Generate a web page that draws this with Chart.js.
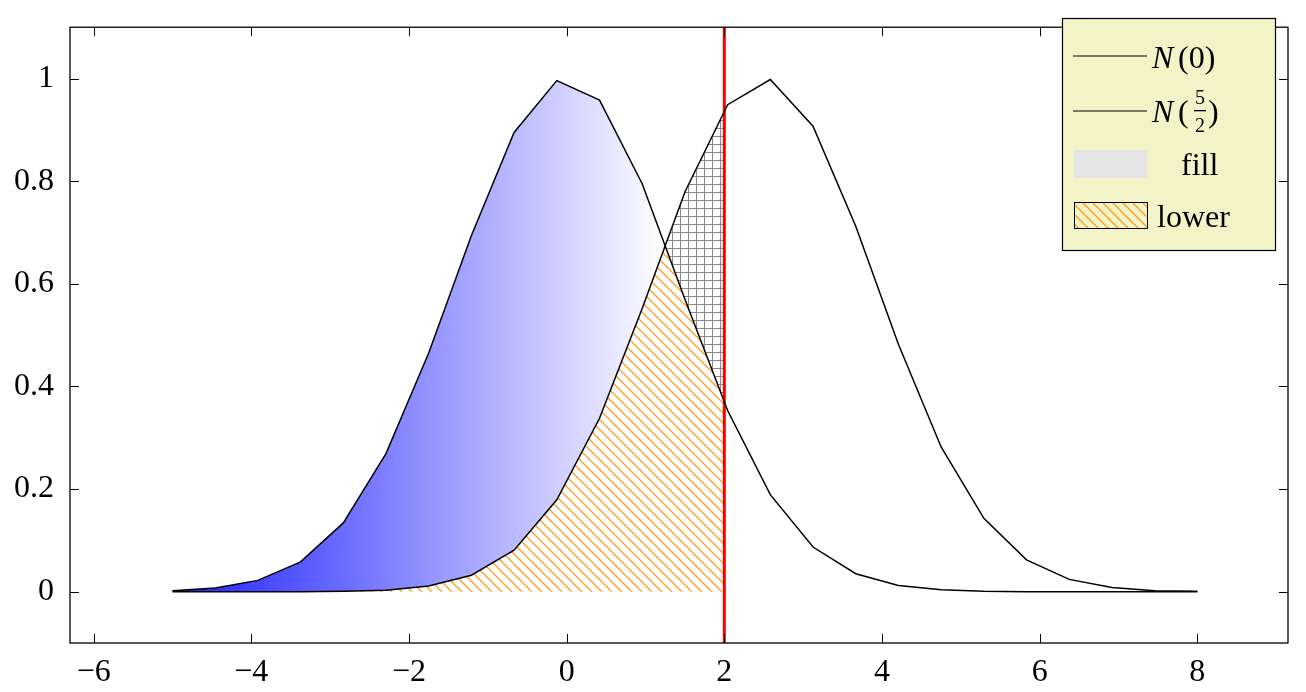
<!DOCTYPE html>
<html>
<head>
<meta charset="utf-8">
<script src="https://cdn.jsdelivr.net/npm/chart.js@4"></script>
<style>
  html, body { margin: 0; padding: 0; background: #fff; }
  #wrap { width: 1306px; height: 692px; }
</style>
</head>
<body>
<div id="wrap"><canvas id="chart"></canvas></div>
<script>
// sample positions (25 samples from -5 to 8)
const xs = [-5.000, -4.458, -3.917, -3.375, -2.833, -2.292, -1.750, -1.208, -0.667, -0.125, 0.417, 0.958, 1.500,
            2.042, 2.583, 3.125, 3.667, 4.208, 4.750, 5.292, 5.833, 6.375, 6.917, 7.458, 8.000];
const n0 = [0.002, 0.007, 0.022, 0.058, 0.134, 0.269, 0.465, 0.694, 0.895, 0.996, 0.958, 0.795, 0.570,
            0.353, 0.189, 0.087, 0.035, 0.012, 0.004, 0.001, 0, 0, 0, 0, 0];
const n25 = [0, 0, 0, 0, 0.001, 0.003, 0.011, 0.032, 0.081, 0.179, 0.338, 0.552, 0.779,
             0.949, 0.998, 0.907, 0.712, 0.482, 0.282, 0.143, 0.062, 0.024, 0.008, 0.002, 0.001];
// clipped region x <= 2, with crossing point
const xsFill = [-5.000, -4.458, -3.917, -3.375, -2.833, -2.292, -1.750, -1.208, -0.667, -0.125, 0.417, 0.958, 1.25, 1.500, 2.0];
const topFill = [0.002, 0.007, 0.022, 0.058, 0.134, 0.269, 0.465, 0.694, 0.895, 0.996, 0.958, 0.795, 0.674, 0.570, 0.370];
const botFill = [0, 0, 0, 0, 0.001, 0.003, 0.011, 0.032, 0.081, 0.179, 0.338, 0.552, 0.674, 0.779, 0.936];
const crossX = 1.25;
const cutX = 2;
const xTicks = [-6, -4, -2, 0, 2, 4, 6, 8];
const yTicks = [0, 0.2, 0.4, 0.6, 0.8, 1];

const pts = (a, b) => a.map((x, i) => ({ x: x, y: b[i] }));
const FONT = '"Liberation Serif", "DejaVu Serif", serif';

function makePattern(kind) {
  const c = document.createElement('canvas');
  const s = kind === 'hatch' ? 10 : 8;
  c.width = s; c.height = s;
  const g = c.getContext('2d');
  if (kind === 'hatch') {
    g.strokeStyle = '#ff9a1a'; g.lineWidth = 1.3;
    g.beginPath();
    g.moveTo(0, 0); g.lineTo(s, s);
    g.moveTo(-s, 0); g.lineTo(s, 2 * s);
    g.moveTo(0, -s); g.lineTo(2 * s, s);
    g.stroke();
  } else {
    g.strokeStyle = '#888'; g.lineWidth = 1;
    g.beginPath();
    g.moveTo(0.5, 0); g.lineTo(0.5, s);
    g.moveTo(0, 0.5); g.lineTo(s, 0.5);
    g.stroke();
  }
  return g.createPattern(c, 'repeat');
}

function poly(ctx, xsc, ysc, upper, lower) {
  ctx.beginPath();
  upper.forEach((p, i) => {
    const px = xsc.getPixelForValue(p.x), py = ysc.getPixelForValue(p.y);
    i ? ctx.lineTo(px, py) : ctx.moveTo(px, py);
  });
  for (let i = lower.length - 1; i >= 0; i--) {
    ctx.lineTo(xsc.getPixelForValue(lower[i].x), ysc.getPixelForValue(lower[i].y));
  }
  ctx.closePath();
}

const fillPlugin = {
  id: 'fills',
  beforeDatasetsDraw(chart) {
    const ctx = chart.ctx, xsc = chart.scales.x, ysc = chart.scales.y;
    const top = pts(xsFill, topFill), bot = pts(xsFill, botFill);
    const k = xsFill.indexOf(crossX);
    ctx.save();
    // gradient between curves left of crossing
    const grad = ctx.createLinearGradient(xsc.getPixelForValue(-5), 0, xsc.getPixelForValue(crossX), 0);
    grad.addColorStop(0, 'rgb(30,30,255)');
    grad.addColorStop(1, 'rgb(255,255,255)');
    ctx.fillStyle = grad;
    poly(ctx, xsc, ysc, top.slice(0, k + 1), bot.slice(0, k + 1));
    ctx.fill();
    // grid between crossing and cut
    ctx.fillStyle = makePattern('grid');
    poly(ctx, xsc, ysc, bot.slice(k), top.slice(k));
    ctx.fill();
    // hatch under lower curve
    const low = xsFill.map((x, i) => ({ x: x, y: Math.min(topFill[i], botFill[i]) }));
    const base = [{ x: xsFill[0], y: 0 }, { x: cutX, y: 0 }];
    ctx.fillStyle = makePattern('hatch');
    poly(ctx, xsc, ysc, low, base);
    ctx.fill();
    ctx.restore();
  },
  afterDraw(chart) {
    const ctx = chart.ctx, a = chart.chartArea, xsc = chart.scales.x, ysc = chart.scales.y;
    ctx.save();
    ctx.strokeStyle = '#000'; ctx.lineWidth = 1.3;
    ctx.strokeRect(a.left, a.top, a.right - a.left, a.bottom - a.top);
    ctx.lineWidth = 1;
    ctx.beginPath();
    xTicks.forEach(v => {
      const p = Math.round(xsc.getPixelForValue(v)) + 0.5;
      ctx.moveTo(p, a.bottom); ctx.lineTo(p, a.bottom - 9);
      ctx.moveTo(p, a.top); ctx.lineTo(p, a.top + 9);
    });
    yTicks.forEach(v => {
      const p = Math.round(ysc.getPixelForValue(v)) + 0.5;
      ctx.moveTo(a.left, p); ctx.lineTo(a.left + 9, p);
      ctx.moveTo(a.right, p); ctx.lineTo(a.right - 9, p);
    });
    ctx.stroke();

    // legend
    const L = 1062, T = 18, W = 213, H = 232;
    ctx.fillStyle = '#f3f3c8';
    ctx.fillRect(L, T, W, H);
    ctx.strokeStyle = '#000'; ctx.lineWidth = 1.2;
    ctx.strokeRect(L + 0.5, T + 0.5, W, H);
    ctx.lineWidth = 1.2;
    ctx.beginPath();
    ctx.moveTo(1073, 56); ctx.lineTo(1147, 56);
    ctx.moveTo(1073, 111); ctx.lineTo(1147, 111);
    ctx.stroke();
    ctx.fillStyle = '#e5e5e5';
    ctx.fillRect(1074, 150, 73, 28);
    ctx.fillStyle = makePattern('hatch');
    ctx.fillRect(1074, 202, 73, 26);
    ctx.strokeStyle = '#000'; ctx.lineWidth = 1;
    ctx.strokeRect(1074.5, 202.5, 73, 26);

    ctx.fillStyle = '#000';
    ctx.textBaseline = 'alphabetic';
    ctx.font = 'italic 32px ' + FONT;
    ctx.fillText('N', 1152, 68);
    ctx.fillText('N', 1152, 122);
    ctx.font = '32px ' + FONT;
    ctx.fillText('(0)', 1178, 68);
    ctx.fillText('(', 1178, 122);
    ctx.font = '20px ' + FONT;
    ctx.fillText('5', 1195, 104);
    ctx.fillText('2', 1195, 132);
    ctx.fillRect(1194, 110, 12, 1.3);
    ctx.font = '32px ' + FONT;
    ctx.fillText(')', 1208, 122);
    ctx.fillText('fill', 1181, 175);
    ctx.fillText('lower', 1157, 227);
    ctx.restore();
  }
};

new Chart(document.getElementById('chart'), {
  type: 'line',
  data: {
    datasets: [
      { label: 'N(0)', data: pts(xs, n0), borderColor: '#000', borderWidth: 1.5 },
      { label: 'N(5/2)', data: pts(xs, n25), borderColor: '#000', borderWidth: 1.5 },
      { label: 'cut', data: [{ x: cutX, y: -0.1 }, { x: cutX, y: 1.1 }], borderColor: '#ff0000', borderWidth: 3 }
    ]
  },
  options: {
    responsive: true,
    maintainAspectRatio: false,
    animation: false,
    layout: { padding: { top: 5, right: 18 } },
    elements: { point: { radius: 0 }, line: { tension: 0, fill: false } },
    plugins: { legend: { display: false }, tooltip: { enabled: false } },
    scales: {
      x: {
        type: 'linear', min: -6.3, max: 9.15,
        afterBuildTicks: s => { s.ticks = xTicks.map(v => ({ value: v })); },
        afterFit: s => { s.height = 49; },
        grid: { display: false },
        border: { display: false },
        ticks: {
          color: '#000', font: { family: FONT, size: 32 }, padding: 2,
          callback: v => (v < 0 ? '\u2212' + Math.abs(v) : String(v))
        }
      },
      y: {
        min: -0.1, max: 1.1,
        afterBuildTicks: s => { s.ticks = yTicks.map(v => ({ value: v })); },
        afterFit: s => { s.width = 70; },
        grid: { display: false },
        border: { display: false },
        ticks: {
          color: '#000', font: { family: FONT, size: 32 }, padding: 8,
          callback: v => String(Math.round(v * 10) / 10)
        }
      }
    }
  },
  plugins: [fillPlugin]
});
</script>
</body>
</html>
